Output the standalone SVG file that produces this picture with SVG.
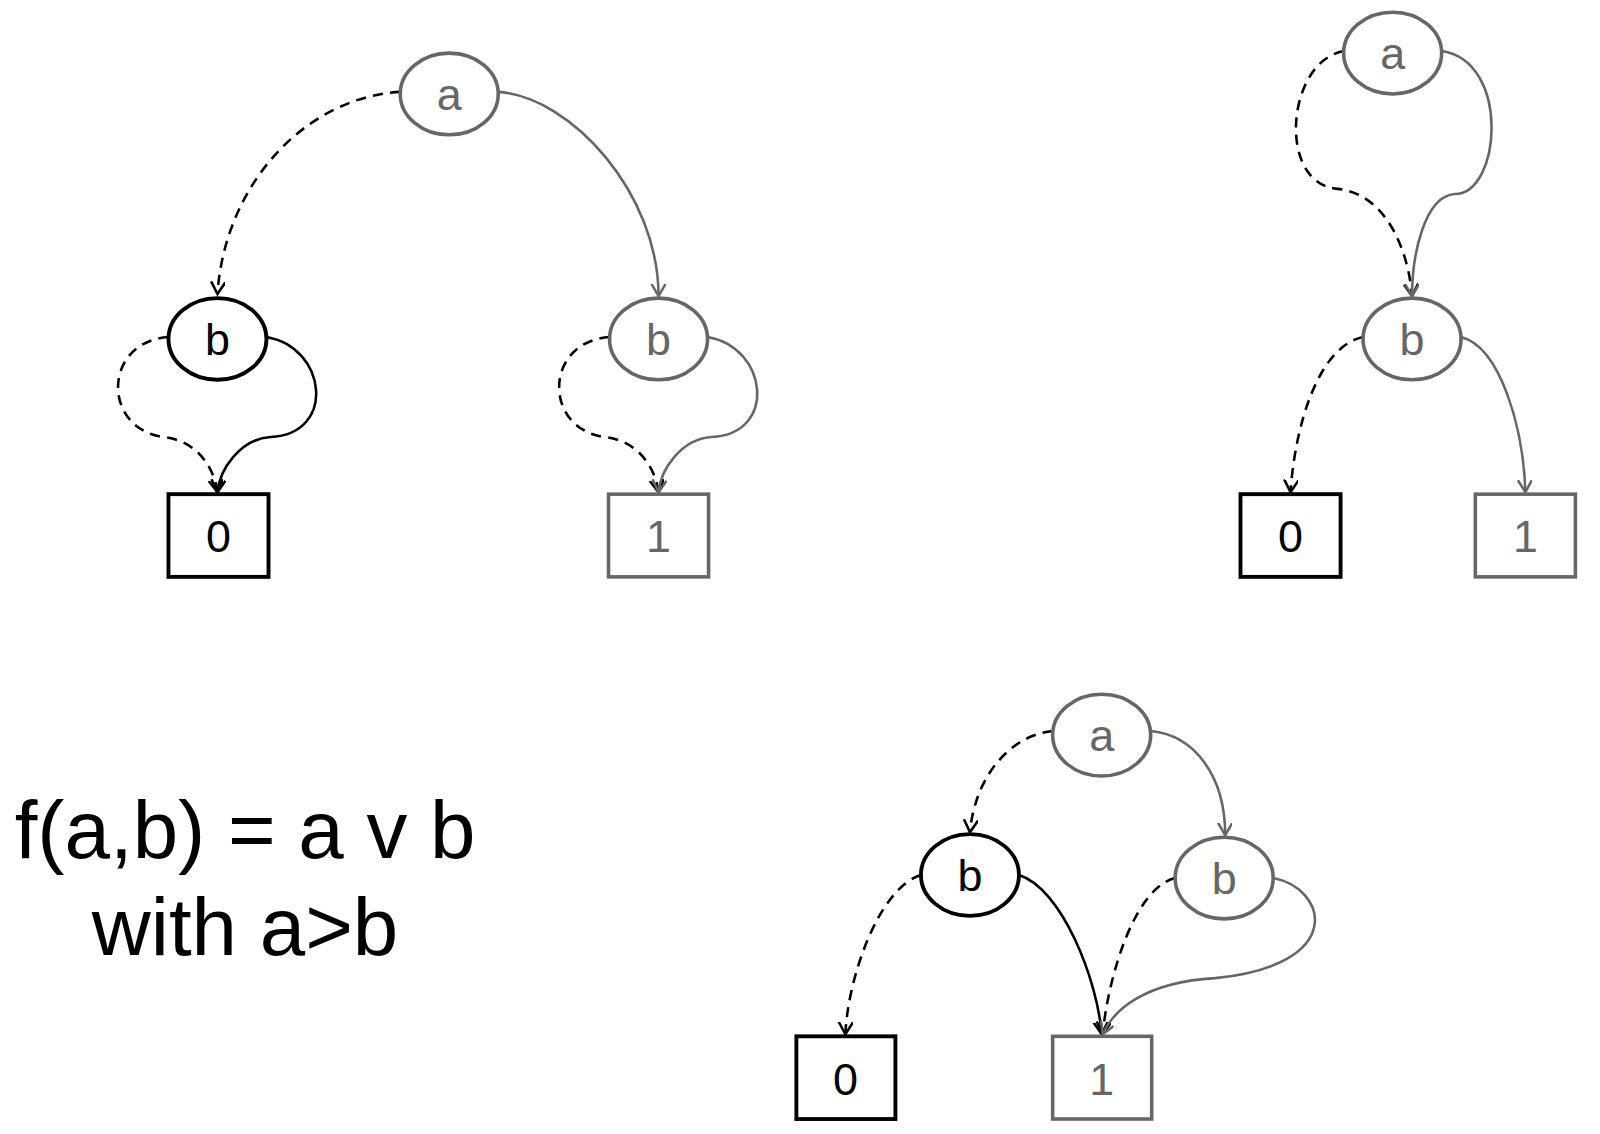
<svg xmlns="http://www.w3.org/2000/svg" width="1600" height="1134" viewBox="0 0 1600 1134">
<style>
.g{stroke:#666;fill:#fff;stroke-width:3.5}
.k{stroke:#000;fill:#fff;stroke-width:3.8}
.t{font-family:"Liberation Sans",Arial,sans-serif;font-size:44px;text-anchor:middle}
.eg{fill:none;stroke:#666;stroke-width:2.5}
.ek{fill:none;stroke:#000;stroke-width:2.5}
.d{stroke-dasharray:10,7}
</style>
<defs>
<marker id="ak" markerWidth="16" markerHeight="16" refX="12" refY="7" orient="auto" markerUnits="userSpaceOnUse"><path d="M0,0 L12,7 L0,14" fill="none" stroke="#000" stroke-width="2.5"/></marker>
<marker id="ag" markerWidth="16" markerHeight="16" refX="12" refY="7" orient="auto" markerUnits="userSpaceOnUse"><path d="M0,0 L12,7 L0,14" fill="none" stroke="#666" stroke-width="2.5"/></marker>
</defs>
<g transform="scale(1.021)">
<g id="connectors">
<path class="ek d" d="M392,90 C300,95 220,180 213,288" marker-end="url(#ak)"/>
<path class="eg" d="M488,90 C560,95 645,190 645,290" marker-end="url(#ag)"/>
<path class="ek d" d="M165,330 C100,335 100,420 160,428 C195,432 210,460 213,482" marker-end="url(#ak)"/>
<path class="ek" d="M261,330 C320,340 330,425 265,428 C235,430 215,460 213,482" marker-end="url(#ak)"/>
<path class="ek d" d="M597,330 C532,335 532,420 592,428 C627,432 642,460 645,482" marker-end="url(#ak)"/>
<path class="eg" d="M693,330 C752,340 762,425 697,428 C667,430 647,460 645,482" marker-end="url(#ag)"/>
<path class="ek d" d="M1316,50 C1260,60 1250,180 1310,185 C1360,190 1380,250 1383,290" marker-end="url(#ak)"/>
<path class="eg" d="M1412,50 C1480,60 1470,190 1425,190 C1395,192 1383,250 1383,290" marker-end="url(#ag)"/>
<path class="ek d" d="M1335,330 C1290,340 1268,420 1264,482" marker-end="url(#ak)"/>
<path class="eg" d="M1431,330 C1470,340 1492,420 1494,482" marker-end="url(#ag)"/>
<path class="ek d" d="M1031,716 C990,720 955,760 950,815" marker-end="url(#ak)"/>
<path class="eg" d="M1127,716 C1170,720 1200,760 1200,818" marker-end="url(#ag)"/>
<path class="ek d" d="M902,857 C860,870 830,960 828,1013" marker-end="url(#ak)"/>
<path class="ek" d="M998,857 C1040,870 1075,960 1079,1013" marker-end="url(#ak)" stroke-width="3"/>
<path class="ek d" d="M1151,860 C1110,870 1085,960 1080,1013" marker-end="url(#ak)"/>
<path class="eg" d="M1247,860 C1300,870 1320,945 1190,958 C1120,962 1090,990 1080,1013" marker-end="url(#ag)"/>
</g>
<g id="L_a"><ellipse class="g" cx="440" cy="92" rx="48" ry="40"/><text class="t" x="440" y="108" fill="#666">a</text></g>
<g id="L_b0"><ellipse class="k" cx="213" cy="332" rx="48" ry="40"/><text class="t" x="213" y="348">b</text></g>
<g id="L_b1"><ellipse class="g" cx="645" cy="332" rx="48" ry="40"/><text class="t" x="645" y="348" fill="#666">b</text></g>
<g id="L_0"><rect class="k" x="165" y="484" width="98" height="81"/><text class="t" x="214" y="541">0</text></g>
<g id="L_1"><rect class="g" x="596" y="484" width="98" height="81"/><text class="t" x="645" y="541" fill="#666">1</text></g>
<g id="R_a"><ellipse class="g" cx="1364" cy="52" rx="48" ry="40"/><text class="t" x="1364" y="68" fill="#666">a</text></g>
<g id="R_b"><ellipse class="g" cx="1383" cy="332" rx="48" ry="40"/><text class="t" x="1383" y="348" fill="#666">b</text></g>
<g id="R_0"><rect class="k" x="1215" y="484" width="98" height="81"/><text class="t" x="1264" y="541">0</text></g>
<g id="R_1"><rect class="g" x="1445" y="484" width="98" height="81"/><text class="t" x="1494" y="541" fill="#666">1</text></g>
<g id="B_a"><ellipse class="g" cx="1079" cy="720" rx="48" ry="40"/><text class="t" x="1079" y="736" fill="#666">a</text></g>
<g id="B_b0"><ellipse class="k" cx="950" cy="857" rx="48" ry="40"/><text class="t" x="950" y="873">b</text></g>
<g id="B_b1"><ellipse class="g" cx="1199" cy="860" rx="48" ry="40"/><text class="t" x="1199" y="876" fill="#666">b</text></g>
<g id="B_0"><rect class="k" x="780" y="1015" width="97" height="81"/><text class="t" x="828" y="1072">0</text></g>
<g id="B_1"><rect class="g" x="1031" y="1015" width="97" height="81"/><text class="t" x="1079" y="1072" fill="#666">1</text></g>
<g id="formula" font-family="Liberation Sans,Arial,sans-serif" font-size="80" text-anchor="middle">
<text x="240" y="840">f(a,b) = a v b</text>
<text x="240" y="935">with a&gt;b</text>
</g>
</g>
</svg>
